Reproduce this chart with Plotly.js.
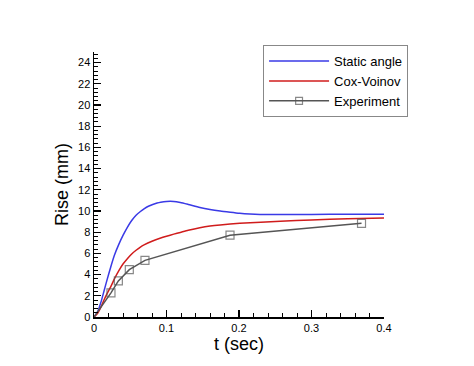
<!DOCTYPE html>
<html><head><meta charset="utf-8">
<script src="https://cdn.plot.ly/plotly-3.0.1.min.js"></script>
<style>html,body{margin:0;padding:0;background:#fff}#plot{width:474px;height:366px}</style>
</head><body><div id="plot"></div>
<script>
const tStatic = [0, 0.005, 0.01, 0.014, 0.018, 0.023, 0.028, 0.0345, 0.04, 0.046, 0.052, 0.058, 0.064, 0.069, 0.075, 0.081, 0.087, 0.092, 0.1, 0.11, 0.119, 0.13, 0.146, 0.16, 0.174, 0.188, 0.201, 0.215, 0.229, 0.257, 0.3, 0.35, 0.4];
const riseStatic = [0, 0.5, 1.5, 2.5, 3.5, 4.7, 5.8, 6.9, 7.7, 8.46, 9.1, 9.6, 9.95, 10.2, 10.45, 10.62, 10.75, 10.83, 10.9, 10.9, 10.8, 10.62, 10.34, 10.15, 10.0, 9.88, 9.78, 9.71, 9.67, 9.66, 9.68, 9.7, 9.7];
const tCox = [0, 0.005, 0.01, 0.0138, 0.018, 0.023, 0.0285, 0.0345, 0.04, 0.046, 0.052, 0.058, 0.064, 0.069, 0.08, 0.092, 0.1, 0.11, 0.119, 0.13, 0.146, 0.16, 0.174, 0.201, 0.23, 0.257, 0.3, 0.35, 0.4];
const riseCox = [0, 0.35, 1.0, 1.6, 2.2, 2.84, 3.65, 4.4, 5.0, 5.5, 5.95, 6.3, 6.6, 6.8, 7.15, 7.45, 7.62, 7.82, 7.98, 8.18, 8.42, 8.58, 8.69, 8.84, 8.95, 9.03, 9.16, 9.27, 9.34];
const tExp = [0, 0.0234, 0.0336, 0.0487, 0.0703, 0.1876, 0.369];
const riseExp = [0, 2.28, 3.4, 4.47, 5.34, 7.72, 8.84];
const expMarkerSize = [0, 8, 8, 8, 8, 8, 8];
const seriesNames = ['Static angle', 'Cox-Voinov', 'Experiment'];

const data = [
  {x: tStatic, y: riseStatic, name: seriesNames[0], mode: 'lines', line: {color: '#3a3ae6', width: 1.5, shape: 'spline', smoothing: 0.6}},
  {x: tCox, y: riseCox, name: seriesNames[1], mode: 'lines', line: {color: '#d01c1c', width: 1.5, shape: 'spline', smoothing: 0.6}},
  {x: tExp, y: riseExp, name: seriesNames[2], mode: 'lines+markers', line: {color: '#555555', width: 1.5},
   marker: {symbol: 'square-open', size: expMarkerSize, color: '#555555', line: {width: 1.2}}}
];
const axisFont = {family: 'Liberation Sans, Arial, sans-serif', size: 11, color: '#000'};
const layout = {
  width: 474, height: 366,
  margin: {l: 94, r: 90, t: 52, b: 49},
  paper_bgcolor: '#fff', plot_bgcolor: '#fff',
  showlegend: true,
  legend: {x: 0.583, y: 1.026, xanchor: 'left', yanchor: 'top', bordercolor: '#888', borderwidth: 1,
    font: {family: 'Liberation Sans, Arial, sans-serif', size: 13, color: '#000'},
    tracegroupgap: 0, itemwidth: 60},
  xaxis: {range: [0, 0.4], dtick: 0.1, tick0: 0, ticks: 'inside', ticklen: 7, tickwidth: 1.2, tickcolor: '#000',
    minor: {dtick: 0.02, ticks: 'inside', ticklen: 4, tickcolor: '#000', tickwidth: 1},
    showline: true, linecolor: '#000', linewidth: 1.5, showgrid: false, zeroline: false, automargin: true,
    tickfont: axisFont, title: {text: 't (sec)', font: {family: 'Liberation Sans, Arial, sans-serif', size: 18, color: '#000'}, standoff: 2}},
  yaxis: {range: [0, 25], dtick: 2, tick0: 0, ticks: 'inside', ticklen: 7, tickwidth: 1.2, tickcolor: '#000',
    minor: {dtick: 0.4, ticks: 'inside', ticklen: 4, tickcolor: '#000', tickwidth: 1},
    showline: true, linecolor: '#000', linewidth: 1.5, showgrid: false, zeroline: false,
    tickfont: axisFont, title: {text: 'Rise (mm)', font: {family: 'Liberation Sans, Arial, sans-serif', size: 18, color: '#000'}, standoff: 4}}
};
Plotly.newPlot('plot', data, layout, {displayModeBar: false, staticPlot: true});
</script></body></html>
